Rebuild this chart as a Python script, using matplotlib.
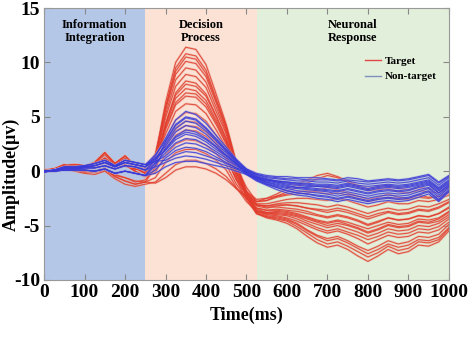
import matplotlib.pyplot as plt
import numpy as np

# sample times of the averaged trials (ms)
time_ms = list(range(0, 1001, 25))

# phase borders and names
phase_edges = [0, 250, 525, 1000]
phase_names = ["Information\nIntegration", "Decision\nProcess", "Neuronal\nResponse"]

# target trials (uV), one row per trace
target_trials = [
    [0.0, 0.1, 0.5, 0.4, 0.3, 0.6, 1.2, 0.5, 1.0, 0.3, -0.2, 1.3, 6.3, 10.0, 11.4, 11.2, 9.8, 7.1, 4.3, 0.8, -2.0, -3.6,
     -3.8, -3.7, -3.8, -4.0, -4.3, -4.6, -4.8, -4.6, -4.9, -5.2, -5.6, -5.3, -4.9, -5.1, -5.0, -4.6, -4.7, -4.4, -3.8],
    [-0.1, 0.1, 0.4, 0.5, 0.4, 0.8, 1.7, 0.7, 1.4, 0.5, 0.1, 1.4, 5.9, 9.5, 10.8, 10.6, 9.3, 6.7, 4.1, 0.7, -2.2, -3.9,
     -4.3, -4.5, -4.8, -5.3, -6.0, -6.6, -7.0, -6.8, -7.2, -7.8, -8.3, -7.8, -7.2, -7.6, -7.4, -6.8, -6.9, -6.5, -5.5],
    [0.0, 0.2, 0.6, 0.3, 0.2, 0.4, 0.8, 0.2, 0.6, 0.0, -0.5, 0.9, 5.6, 8.9, 10.1, 9.9, 8.7, 6.3, 3.8, 0.6, -1.8, -3.2,
     -3.4, -3.2, -3.1, -3.2, -3.4, -3.6, -3.8, -3.6, -3.8, -4.1, -4.4, -4.1, -3.8, -4.0, -3.9, -3.6, -3.7, -3.4, -2.9],
    [0.1, 0.2, 0.5, 0.6, 0.5, 0.6, 0.9, 0.4, 0.5, 0.2, 0.3, 1.4, 5.2, 8.4, 9.5, 9.3, 8.2, 5.9, 3.6, 0.5, -2.3, -3.8,
     -4.1, -4.2, -4.4, -4.8, -5.4, -5.9, -6.2, -6.0, -6.4, -6.9, -7.3, -6.9, -6.4, -6.7, -6.5, -6.0, -6.1, -5.8, -4.9],
    [0.0, 0.2, 0.4, 0.5, 0.2, 0.5, 1.0, 0.6, 0.8, 0.4, 0.0, 1.1, 4.9, 7.8, 8.9, 8.7, 7.7, 5.5, 3.4, 0.4, -1.5, -2.8,
     -2.7, -2.4, -2.2, -2.1, -2.0, -1.8, -1.5, -1.7, -2.0, -2.3, -2.6, -2.4, -2.1, -2.4, -2.5, -2.2, -2.4, -2.3, -1.9],
    [0.0, 0.0, 0.3, 0.2, 0.0, 0.0, 0.2, -0.5, -0.9, -1.2, -1.0, 0.4, 4.3, 7.2, 8.3, 8.1, 7.1, 5.1, 3.0, 0.1, -2.4, -3.7,
     -3.9, -4.0, -4.1, -4.4, -4.8, -5.2, -5.5, -5.3, -5.6, -5.9, -6.3, -6.0, -5.6, -5.8, -5.7, -5.3, -5.4, -5.1, -4.4],
    [0.0, 0.1, 0.5, 0.4, 0.3, 0.7, 1.5, 0.6, 1.2, 0.4, 0.0, 1.0, 4.2, 6.7, 7.6, 7.4, 6.5, 4.7, 2.8, 0.0, -2.0, -3.4,
     -3.6, -3.5, -3.6, -3.7, -3.9, -4.1, -4.3, -4.1, -4.3, -4.6, -5.0, -4.7, -4.3, -4.5, -4.4, -4.1, -4.2, -3.9, -3.3],
    [0.0, 0.2, 0.6, 0.3, 0.2, 0.4, 0.8, 0.2, 0.6, 0.0, -0.5, 0.6, 3.8, 6.1, 6.9, 6.8, 5.9, 4.3, 2.5, -0.2, -1.9, -2.8,
     -2.5, -2.1, -1.6, -1.2, -0.8, -0.4, -0.2, -0.5, -0.9, -1.3, -1.6, -1.4, -1.3, -1.6, -1.7, -1.5, -1.6, -1.8, -1.4],
    [0.1, 0.2, 0.5, 0.6, 0.5, 0.6, 0.9, 0.4, 0.5, 0.2, 0.3, 1.0, 3.4, 5.5, 6.2, 6.1, 5.3, 3.8, 2.2, -0.4, -2.3, -3.5,
     -3.8, -3.8, -3.9, -4.1, -4.4, -4.7, -5.0, -4.8, -5.0, -5.3, -5.7, -5.4, -5.0, -5.2, -5.1, -4.7, -4.8, -4.6, -4.0],
    [0.0, 0.1, 0.5, 0.4, 0.3, 0.6, 1.2, 0.5, 1.0, 0.3, -0.2, 0.6, 2.9, 4.7, 5.4, 5.3, 4.6, 3.3, 1.9, -0.5, -2.1, -3.1,
     -3.2, -3.0, -2.9, -2.9, -3.0, -3.1, -3.3, -3.1, -3.3, -3.6, -3.9, -3.6, -3.4, -3.6, -3.5, -3.2, -3.3, -3.0, -2.6],
    [0.0, 0.1, 0.2, 0.1, -0.1, 0.0, 0.3, -0.3, -0.6, -1.0, -0.8, 0.2, 2.4, 4.0, 4.6, 4.5, 3.9, 2.7, 1.4, -0.8, -2.6, -3.9,
     -4.2, -4.3, -4.5, -4.9, -5.5, -6.0, -6.4, -6.2, -6.6, -7.1, -7.6, -7.2, -6.7, -7.0, -6.8, -6.3, -6.4, -6.1, -5.2],
    [-0.1, 0.1, 0.4, 0.5, 0.4, 0.8, 1.7, 0.7, 1.4, 0.5, 0.1, 0.8, 2.1, 3.3, 3.8, 3.7, 3.2, 2.2, 1.1, -0.7, -1.9, -2.6,
     -2.5, -2.3, -2.1, -1.9, -1.8, -1.9, -2.1, -2.0, -2.2, -2.5, -2.8, -2.6, -2.4, -2.6, -2.6, -2.4, -2.5, -2.3, -2.0],
    [0.0, 0.2, 0.6, 0.3, 0.2, 0.4, 0.8, 0.2, 0.6, 0.0, -0.5, -0.1, 1.5, 2.5, 2.9, 2.8, 2.4, 1.6, 0.6, -1.2, -2.5, -3.4,
     -3.6, -3.6, -3.7, -3.9, -4.2, -4.5, -4.7, -4.5, -4.7, -5.0, -5.3, -5.0, -4.7, -4.9, -4.8, -4.4, -4.5, -4.3, -3.7],
    [0.0, 0.0, 0.3, 0.2, 0.0, 0.0, 0.2, -0.5, -0.9, -1.2, -1.0, -0.6, 0.8, 1.7, 2.0, 2.0, 1.6, 1.0, 0.1, -1.5, -2.8, -3.7,
     -4.0, -4.1, -4.3, -4.6, -5.0, -5.4, -5.7, -5.5, -5.8, -6.2, -6.7, -6.3, -5.9, -6.1, -6.0, -5.6, -5.7, -5.4, -4.7],
    [0.0, 0.0, 0.2, 0.0, -0.2, -0.3, 0.0, -0.7, -1.2, -1.4, -1.2, -1.0, -0.2, 0.6, 1.0, 1.0, 0.7, 0.2, -0.5, -1.6, -2.5, -3.1,
     -3.2, -3.1, -3.1, -3.2, -3.4, -3.5, -3.6, -3.4, -3.6, -3.9, -4.2, -3.9, -3.7, -3.9, -3.8, -3.5, -3.6, -3.3, -2.8],
    [0.0, 0.1, 0.3, 0.1, 0.0, -0.1, 0.1, -0.4, -0.6, -0.9, -1.0, -1.1, -0.6, 0.1, 0.4, 0.4, 0.2, -0.2, -0.8, -1.6, -2.3, -2.8,
     -2.7, -2.3, -1.9, -1.5, -1.1, -0.7, -0.4, -0.6, -1.0, -1.4, -1.8, -1.7, -1.6, -1.9, -2.0, -1.8, -1.9, -2.0, -1.6],
    [0.1, 0.2, 0.5, 0.6, 0.5, 0.6, 0.9, 0.4, 0.5, 0.2, 0.3, 1.6, 5.8, 9.2, 10.5, 10.3, 9.0, 6.5, 4.0, 0.7, -2.1, -3.7,
     -3.9, -3.9, -4.0, -4.2, -4.6, -4.9, -5.2, -5.0, -5.3, -5.6, -6.0, -5.7, -5.3, -5.5, -5.4, -5.0, -5.1, -4.8, -4.2],
    [0.0, 0.1, 0.5, 0.4, 0.3, 0.6, 1.2, 0.5, 1.0, 0.3, -0.2, 0.8, 4.4, 7.0, 8.0, 7.8, 6.9, 5.0, 3.0, 0.1, -2.4, -3.9,
     -4.2, -4.4, -4.6, -5.1, -5.7, -6.3, -6.7, -6.5, -6.9, -7.4, -7.9, -7.5, -6.9, -7.3, -7.1, -6.5, -6.6, -6.3, -5.3],
    [-0.1, 0.1, 0.4, 0.5, 0.4, 0.8, 1.7, 0.7, 1.4, 0.5, 0.1, 1.1, 4.0, 6.3, 7.2, 7.1, 6.2, 4.5, 2.6, -0.1, -1.9, -3.0,
     -3.0, -2.8, -2.6, -2.5, -2.5, -2.6, -2.7, -2.5, -2.7, -3.0, -3.3, -3.1, -2.8, -3.0, -3.0, -2.7, -2.8, -2.6, -2.2],
    [0.1, 0.2, 0.5, 0.6, 0.5, 0.6, 0.9, 0.4, 0.5, 0.2, 0.3, 1.0, 2.4, 3.7, 4.2, 4.1, 3.6, 2.5, 1.3, -0.8, -2.2, -3.1,
     -3.3, -3.3, -3.4, -3.5, -3.7, -4.0, -4.2, -4.0, -4.2, -4.5, -4.9, -4.6, -4.3, -4.5, -4.4, -4.1, -4.2, -3.9, -3.4],
]

# non-target trials (uV)
nontarget_trials = [
    [0.0, 0.1, 0.3, 0.3, 0.4, 0.5, 0.8, 0.4, 0.8, 0.6, 0.4, 1.4, 3.0, 4.7, 5.5, 5.2, 4.4, 3.3, 2.2, 1.1, 0.2, -0.4,
     -0.7, -0.9, -1.0, -1.1, -1.1, -1.2, -1.2, -1.3, -1.1, -1.3, -1.4, -1.3, -1.2, -1.3, -1.2, -1.0, -0.8, -1.5, -0.8],
    [-0.1, 0.1, 0.4, 0.4, 0.5, 0.7, 1.0, 0.5, 1.0, 0.8, 0.6, 1.5, 2.8, 4.3, 5.0, 4.8, 4.0, 3.0, 2.0, 1.0, 0.0, -0.7,
     -1.1, -1.4, -1.6, -1.8, -1.9, -2.0, -2.1, -2.3, -2.1, -2.3, -2.5, -2.3, -2.2, -2.3, -2.2, -1.9, -1.6, -2.4, -1.5],
    [0.0, 0.0, 0.2, 0.2, 0.3, 0.3, 0.5, 0.2, 0.5, 0.4, 0.1, 1.0, 2.5, 3.9, 4.6, 4.4, 3.7, 2.8, 1.8, 0.9, 0.2, -0.2,
     -0.4, -0.5, -0.5, -0.6, -0.6, -0.6, -0.7, -0.8, -0.6, -0.7, -0.9, -0.8, -0.7, -0.8, -0.7, -0.5, -0.3, -1.0, -0.4],
    [0.0, 0.1, 0.3, 0.3, 0.4, 0.5, 0.8, 0.4, 0.8, 0.6, 0.4, 1.2, 2.3, 3.6, 4.2, 4.0, 3.4, 2.5, 1.7, 0.8, -0.1, -0.6,
     -0.9, -1.1, -1.3, -1.5, -1.5, -1.6, -1.7, -1.8, -1.6, -1.8, -2.0, -1.8, -1.7, -1.8, -1.7, -1.4, -1.2, -2.0, -1.2],
    [0.0, 0.0, 0.1, 0.1, 0.1, 0.0, 0.2, -0.2, 0.0, -0.2, -0.4, 0.5, 2.1, 3.2, 3.8, 3.6, 3.0, 2.3, 1.5, 0.7, -0.3, -0.9,
     -1.3, -1.7, -2.0, -2.2, -2.3, -2.5, -2.6, -2.8, -2.6, -2.8, -3.0, -2.8, -2.7, -2.8, -2.7, -2.4, -2.1, -2.8, -1.9],
    [-0.1, 0.1, 0.4, 0.4, 0.5, 0.7, 1.0, 0.5, 1.0, 0.8, 0.6, 1.2, 1.9, 2.9, 3.4, 3.2, 2.7, 2.0, 1.4, 0.7, 0.1, -0.3,
     -0.6, -0.7, -0.8, -0.9, -0.9, -1.0, -1.0, -1.1, -0.9, -1.1, -1.2, -1.1, -1.0, -1.1, -1.0, -0.8, -0.6, -1.3, -0.6],
    [0.0, 0.0, 0.2, 0.2, 0.3, 0.3, 0.5, 0.2, 0.5, 0.4, 0.1, 0.7, 1.7, 2.6, 3.0, 2.9, 2.4, 1.8, 1.2, 0.6, -0.1, -0.6,
     -1.0, -1.3, -1.5, -1.6, -1.7, -1.8, -1.9, -2.1, -1.9, -2.1, -2.3, -2.1, -2.0, -2.1, -2.0, -1.7, -1.5, -2.2, -1.4],
    [0.0, 0.1, 0.3, 0.3, 0.4, 0.5, 0.8, 0.4, 0.8, 0.6, 0.4, 0.9, 1.4, 2.2, 2.6, 2.5, 2.1, 1.6, 1.0, 0.5, -0.1, -0.5,
     -0.8, -1.0, -1.1, -1.2, -1.3, -1.4, -1.4, -1.5, -1.3, -1.5, -1.7, -1.5, -1.4, -1.5, -1.4, -1.2, -1.0, -1.7, -1.0],
    [0.0, 0.0, 0.1, 0.1, 0.1, 0.0, 0.2, -0.2, 0.0, -0.2, -0.4, 0.1, 1.2, 1.9, 2.2, 2.1, 1.8, 1.3, 0.8, 0.3, -0.3, -0.8,
     -1.2, -1.5, -1.8, -2.0, -2.1, -2.2, -2.3, -2.5, -2.3, -2.5, -2.7, -2.5, -2.4, -2.5, -2.4, -2.1, -1.8, -2.6, -1.7],
    [-0.1, 0.1, 0.4, 0.4, 0.5, 0.7, 1.0, 0.5, 1.0, 0.8, 0.6, 0.9, 1.0, 1.5, 1.8, 1.7, 1.4, 1.1, 0.7, 0.3, 0.0, -0.3,
     -0.5, -0.6, -0.7, -0.7, -0.8, -0.8, -0.8, -0.9, -0.8, -0.9, -1.0, -0.9, -0.8, -0.9, -0.8, -0.6, -0.4, -1.1, -0.5],
    [0.0, 0.0, 0.2, 0.2, 0.3, 0.3, 0.5, 0.2, 0.5, 0.4, 0.1, 0.4, 0.8, 1.2, 1.4, 1.3, 1.1, 0.8, 0.5, 0.2, -0.2, -0.7,
     -1.0, -1.2, -1.4, -1.5, -1.6, -1.7, -1.8, -1.9, -1.7, -1.9, -2.1, -1.9, -1.8, -1.9, -1.8, -1.5, -1.3, -2.0, -1.3],
    [0.0, 0.0, 0.1, 0.1, 0.1, 0.0, 0.2, -0.2, 0.0, -0.2, -0.4, -0.2, 0.4, 0.8, 0.9, 0.9, 0.7, 0.5, 0.3, 0.0, -0.3, -0.6,
     -0.8, -0.9, -1.0, -1.1, -1.2, -1.3, -1.3, -1.4, -1.2, -1.4, -1.6, -1.4, -1.3, -1.4, -1.3, -1.1, -0.9, -1.6, -0.9],
    [0.0, 0.0, 0.1, 0.1, 0.1, 0.0, 0.2, -0.2, 0.0, -0.2, -0.4, 0.8, 2.7, 4.2, 4.9, 4.7, 3.9, 2.9, 1.9, 1.0, 0.1, -0.5,
     -0.8, -1.0, -1.2, -1.3, -1.4, -1.4, -1.5, -1.6, -1.4, -1.6, -1.8, -1.6, -1.5, -1.6, -1.5, -1.3, -1.1, -1.8, -1.1],
    [0.0, 0.1, 0.3, 0.3, 0.4, 0.5, 0.8, 0.4, 0.8, 0.6, 0.4, 1.1, 2.0, 3.1, 3.6, 3.4, 2.9, 2.2, 1.4, 0.7, -0.2, -0.8,
     -1.2, -1.5, -1.8, -2.0, -2.1, -2.3, -2.4, -2.6, -2.4, -2.6, -2.8, -2.6, -2.5, -2.6, -2.5, -2.2, -1.9, -2.7, -1.8],
]

plt.rcParams['font.family'] = ['Liberation Serif', 'DejaVu Serif']
plt.rcParams['font.weight'] = 'bold'
plt.rcParams['axes.unicode_minus'] = False

fig = plt.figure(figsize=(4.74, 3.38), dpi=100)
ax = fig.add_axes([0.093, 0.172, 0.854, 0.804])

bg_colors = ['#B4C7E7', '#FBE2D5', '#E2EFDA']
for i in range(3):
    ax.axvspan(phase_edges[i], phase_edges[i + 1], color=bg_colors[i], lw=0, zorder=0)
    ax.text((phase_edges[i] + phase_edges[i + 1]) / 2, 12.85, phase_names[i],
            ha='center', va='center', fontsize=9, fontweight='bold', linespacing=1.15)

t = np.array(time_ms)
for tr in target_trials:
    ax.plot(t, tr, color='#e8a898', lw=1.8, alpha=0.45, zorder=2)
    ax.plot(t, tr, color='#e23c2c', lw=0.8, alpha=0.85, zorder=3)
for tr in nontarget_trials:
    ax.plot(t, tr, color='#a8acdc', lw=1.8, alpha=0.45, zorder=4)
    ax.plot(t, tr, color='#3a3ad6', lw=0.8, alpha=0.85, zorder=5)

# legend proxies
ax.plot([], [], color='#e04848', lw=1.0, label='Target')
ax.plot([], [], color='#7f8fc0', lw=1.0, label='Non-target')
leg = ax.legend(loc='upper right', bbox_to_anchor=(0.983, 0.843), borderaxespad=0,
                fancybox=False, framealpha=0, edgecolor='#333333', fontsize=8,
                handlelength=1.5, handletextpad=0.3, borderpad=0.5, labelspacing=0.5)
leg.get_frame().set_linewidth(0.9)

ax.set_xlim(0, 1000)
ax.set_ylim(-10, 15)
ax.set_xticks(range(0, 1001, 100))
ax.set_yticks(range(-10, 16, 5))
ax.tick_params(direction='in', top=True, right=True, length=4, color='#888888',
               labelsize=14, pad=3)
for s in ax.spines.values():
    s.set_color('#999999')
    s.set_linewidth(0.8)

ax.set_xlabel('Time(ms)', fontsize=13, fontweight='bold', labelpad=4)
ax.set_ylabel('Amplitude(μv)', fontsize=13, fontweight='bold')
ax.yaxis.set_label_coords(-0.06, 0.39)

fig.savefig('out.png', dpi=100)
